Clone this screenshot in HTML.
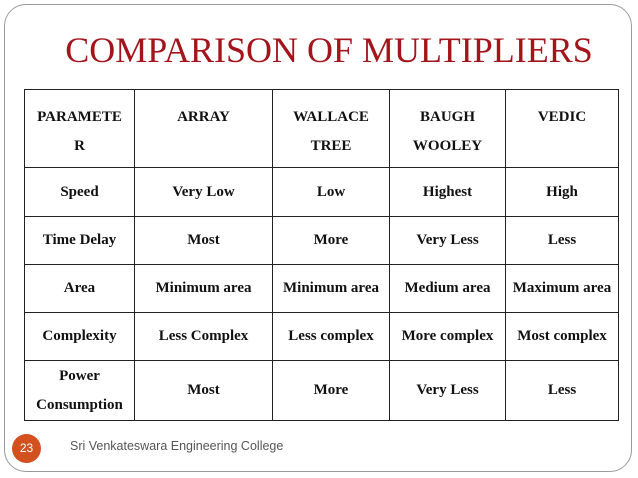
<!DOCTYPE html>
<html><head><meta charset="utf-8"><style>
html,body{margin:0;padding:0;background:#fff;}
body{width:638px;height:478px;position:relative;overflow:hidden;font-family:"Liberation Serif",serif;}
.frame{position:absolute;left:4px;top:4px;width:626px;height:466px;border:1.5px solid #9a9a9a;border-radius:22px;}
.title{position:absolute;left:0;width:658px;top:29px;text-align:center;font-size:36px;color:#a3141b;}
table{position:absolute;left:24px;top:89px;border-collapse:collapse;table-layout:fixed;}
td{border:1.5px solid #222;text-align:center;font-weight:bold;font-size:15px;color:#111;padding:0;line-height:29px;}
.hd td{vertical-align:top;padding-top:13px;}
.badge{position:absolute;left:12px;top:434px;width:29px;height:29px;border-radius:50%;background:#d3501f;color:#fff;font-family:"Liberation Sans",sans-serif;font-size:12px;text-align:center;line-height:29px;}
.foot{position:absolute;left:70px;top:439px;font-family:"Liberation Sans",sans-serif;font-size:12.5px;color:#555;}
</style></head><body>
<div class="frame"></div>
<div class="title">COMPARISON OF MULTIPLIERS</div>
<table>
<colgroup><col style="width:110px"><col style="width:138px"><col style="width:117px"><col style="width:116px"><col style="width:113px"></colgroup>
<tr class="hd" style="height:78px"><td>PARAMETE<br>R</td><td>ARRAY</td><td>WALLACE<br>TREE</td><td>BAUGH<br>WOOLEY</td><td>VEDIC</td></tr>
<tr style="height:49px"><td>Speed</td><td>Very Low</td><td>Low</td><td>Highest</td><td>High</td></tr>
<tr style="height:48px"><td>Time Delay</td><td>Most</td><td>More</td><td>Very Less</td><td>Less</td></tr>
<tr style="height:48px"><td>Area</td><td>Minimum area</td><td>Minimum area</td><td>Medium area</td><td>Maximum area</td></tr>
<tr style="height:48px"><td>Complexity</td><td>Less Complex</td><td>Less complex</td><td>More complex</td><td>Most complex</td></tr>
<tr style="height:60px"><td>Power<br>Consumption</td><td>Most</td><td>More</td><td>Very Less</td><td>Less</td></tr>
</table>
<div class="badge">23</div>
<div class="foot">Sri Venkateswara Engineering College</div>
</body></html>
